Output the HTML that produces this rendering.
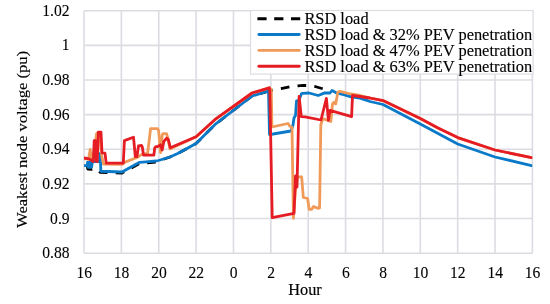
<!DOCTYPE html><html><head><meta charset="utf-8"><style>html,body{margin:0;padding:0;background:#fff;overflow:hidden}svg{display:block}</style></head><body><svg width="550" height="304" viewBox="0 0 550 304"><g stroke="#dcdce3" stroke-width="1.6" fill="none"><line x1="84.00" y1="10.70" x2="84.00" y2="253.20"/><line x1="121.37" y1="10.70" x2="121.37" y2="253.20"/><line x1="158.73" y1="10.70" x2="158.73" y2="253.20"/><line x1="196.10" y1="10.70" x2="196.10" y2="253.20"/><line x1="233.47" y1="10.70" x2="233.47" y2="253.20"/><line x1="270.83" y1="10.70" x2="270.83" y2="253.20"/><line x1="308.20" y1="10.70" x2="308.20" y2="253.20"/><line x1="345.57" y1="10.70" x2="345.57" y2="253.20"/><line x1="382.93" y1="10.70" x2="382.93" y2="253.20"/><line x1="420.30" y1="10.70" x2="420.30" y2="253.20"/><line x1="457.67" y1="10.70" x2="457.67" y2="253.20"/><line x1="495.03" y1="10.70" x2="495.03" y2="253.20"/><line x1="532.40" y1="10.70" x2="532.40" y2="253.20"/><line x1="84.00" y1="10.70" x2="532.40" y2="10.70"/><line x1="84.00" y1="45.34" x2="532.40" y2="45.34"/><line x1="84.00" y1="79.99" x2="532.40" y2="79.99"/><line x1="84.00" y1="114.63" x2="532.40" y2="114.63"/><line x1="84.00" y1="149.27" x2="532.40" y2="149.27"/><line x1="84.00" y1="183.91" x2="532.40" y2="183.91"/><line x1="84.00" y1="218.56" x2="532.40" y2="218.56"/><line x1="84.00" y1="253.20" x2="532.40" y2="253.20"/></g><g font-family="'Liberation Serif','Times New Roman',serif" font-size="15.6" fill="#000" stroke="#000" stroke-width="0.1"><text transform="translate(69.6 15.65) scale(1 1.08)" text-anchor="end">1.02</text><text transform="translate(69.6 50.29) scale(1 1.08)" text-anchor="end">1</text><text transform="translate(69.6 84.94) scale(1 1.08)" text-anchor="end">0.98</text><text transform="translate(69.6 119.58) scale(1 1.08)" text-anchor="end">0.96</text><text transform="translate(69.6 154.22) scale(1 1.08)" text-anchor="end">0.94</text><text transform="translate(69.6 188.86) scale(1 1.08)" text-anchor="end">0.92</text><text transform="translate(69.6 223.51) scale(1 1.08)" text-anchor="end">0.9</text><text transform="translate(69.6 258.15) scale(1 1.08)" text-anchor="end">0.88</text><text transform="translate(84.20 278.2) scale(1 1.08)" text-anchor="middle">16</text><text transform="translate(121.57 278.2) scale(1 1.08)" text-anchor="middle">18</text><text transform="translate(158.93 278.2) scale(1 1.08)" text-anchor="middle">20</text><text transform="translate(196.30 278.2) scale(1 1.08)" text-anchor="middle">22</text><text transform="translate(233.67 278.2) scale(1 1.08)" text-anchor="middle">0</text><text transform="translate(271.03 278.2) scale(1 1.08)" text-anchor="middle">2</text><text transform="translate(308.40 278.2) scale(1 1.08)" text-anchor="middle">4</text><text transform="translate(345.77 278.2) scale(1 1.08)" text-anchor="middle">6</text><text transform="translate(383.13 278.2) scale(1 1.08)" text-anchor="middle">8</text><text transform="translate(420.50 278.2) scale(1 1.08)" text-anchor="middle">10</text><text transform="translate(457.87 278.2) scale(1 1.08)" text-anchor="middle">12</text><text transform="translate(495.23 278.2) scale(1 1.08)" text-anchor="middle">14</text><text transform="translate(532.60 278.2) scale(1 1.08)" text-anchor="middle">16</text></g><text font-family="'Liberation Serif','Times New Roman',serif" font-size="16.3" transform="translate(305 294.6) scale(1 1.08)" text-anchor="middle" fill="#000" stroke="#000" stroke-width="0.15">Hour</text><text font-family="'Liberation Serif','Times New Roman',serif" font-size="16.3" transform="translate(27.2,139.4) rotate(-90) scale(1.02 0.95)" text-anchor="middle" fill="#000" stroke="#000" stroke-width="0.15">Weakest node voltage (pu)</text><defs><clipPath id="pc"><rect x="84.0" y="0" width="448.40" height="304"/></clipPath></defs><g clip-path="url(#pc)" fill="none" stroke-linejoin="round" stroke-linecap="round" stroke-width="2.8"><polyline points="84.0,165.6 87.3,165.6 87.8,169.0 92.0,169.3 96.0,168.5 100.0,172.3 108.0,172.5 122.0,173.0 139.6,163.5 146.0,163.0 156.0,162.0 158.5,161.0 170.0,157.0 178.2,153.3 196.1,143.6 214.8,124.7 252.1,96.0 268.5,91.2" stroke="#000" stroke-dasharray="8.7 8.2" stroke-dashoffset="-2.5" stroke-linecap="butt"/><polyline points="269.0,91.0 271.0,90.5 281.0,88.7 290.0,86.8 298.0,85.8 303.0,85.4 306.7,85.5 315.0,86.5 323.6,89.0 330.0,91.5" stroke="#000" stroke-dasharray="8.7 8.2" stroke-dashoffset="4.8" stroke-linecap="butt"/><polyline points="84.0,165.6 87.2,165.6 87.6,162.2 88.4,167.4 89.2,162.2 90.0,167.4 90.8,162.2 91.6,167.4 92.2,162.5 93.6,161.5 96.0,161.5 99.4,161.5 100.3,153.5 100.8,171.3 108.0,171.5 122.0,172.0 139.6,162.3 146.0,161.8 156.0,161.0 158.5,160.5 170.0,157.0 178.2,153.3 196.1,143.6 214.8,124.7 252.1,96.0 268.5,91.0 269.5,134.5 273.0,134.0 291.0,131.0 293.0,125.0 294.0,118.0 295.5,115.5 296.5,101.0 299.0,100.0 301.5,93.8 302.5,93.3 309.0,93.0 318.2,95.5 324.7,92.9 330.0,93.0 332.0,90.5 336.6,92.9 344.5,94.9 351.0,96.8 360.0,98.2 370.0,101.5 383.0,104.5 420.3,124.0 457.7,144.0 495.0,157.0 531.5,165.6" stroke="#0a7ac8"/><polyline points="84.0,158.5 88.5,159.0 90.2,149.5 91.8,159.0 93.0,160.0 96.6,133.5 97.8,132.5 99.5,133.0 101.8,156.0 103.5,164.2 122.0,164.3 124.4,162.4 137.0,157.5 141.8,154.4 147.6,153.5 150.6,128.7 157.5,128.7 158.6,130.5 160.5,152.5 162.2,135.0 163.0,133.7 166.5,133.7 167.5,137.0 170.0,149.0 196.1,136.8 214.8,119.7 252.1,93.0 269.3,87.8 271.3,90.0 271.9,127.0 288.0,123.5 290.0,126.5 292.0,127.0 293.4,218.3 295.5,190.0 297.5,176.8 301.7,176.8 303.3,197.5 307.6,198.5 309.2,209.4 311.6,209.4 313.5,206.4 315.5,207.4 318.5,208.4 319.6,208.0 320.8,125.0 322.8,118.6 330.8,121.5 332.5,104.0 334.0,102.3 335.7,104.0 337.9,92.0 340.0,91.3 351.0,94.0 360.0,95.5 370.0,98.0 383.0,100.6 420.3,118.5 438.0,128.0 457.7,137.6 495.0,150.0 531.5,157.6" stroke="#f09a5a"/><polyline points="84.0,158.0 88.8,158.8 92.6,161.0 93.3,161.5 94.2,140.6 95.5,140.6 96.4,161.5 97.3,161.5 98.4,132.2 101.0,132.2 102.0,152.8 105.0,153.2 106.2,163.2 112.0,163.2 123.3,163.2 124.4,140.6 125.0,140.4 133.5,137.2 135.3,156.5 137.0,156.5 138.5,145.8 141.5,145.5 142.3,147.0 143.5,155.0 148.0,155.2 153.9,155.0 154.7,148.0 155.8,146.6 157.6,146.6 160.3,144.8 162.2,150.0 163.8,141.5 166.5,138.3 168.3,139.2 170.3,147.8 196.1,136.8 214.8,119.7 252.1,93.0 269.3,87.8 269.8,90.0 272.2,217.6 294.0,213.3 295.5,176.0 297.0,187.0 299.1,96.5 301.3,116.6 305.0,116.8 321.0,120.0 326.4,98.4 328.4,120.3 330.0,110.3 351.6,116.7 352.5,95.5 360.0,96.5 370.0,98.0 383.0,100.6 420.3,118.5 438.0,128.0 457.7,137.6 495.0,150.0 531.5,157.6" stroke="#e61c24"/></g><rect x="250.5" y="10.5" width="282.60" height="63.60" fill="#fff" stroke="#dcdce3" stroke-width="1.2"/><line x1="257.4" y1="18.8" x2="300.7" y2="18.8" stroke="#000" stroke-width="3" stroke-dasharray="9.2 7.6"/><text x="304.4" y="24.00" font-family="'Liberation Serif','Times New Roman',serif" font-size="16.4" fill="#000" stroke="#000" stroke-width="0.12">RSD load</text><line x1="258.9" y1="34.5" x2="299.2" y2="34.5" stroke="#0a7ac8" stroke-width="2.9" stroke-linecap="round"/><text x="304.4" y="39.70" font-family="'Liberation Serif','Times New Roman',serif" font-size="16.4" fill="#000" stroke="#000" stroke-width="0.12">RSD load &amp; 32% PEV penetration</text><line x1="258.9" y1="50.4" x2="299.2" y2="50.4" stroke="#f09a5a" stroke-width="2.9" stroke-linecap="round"/><text x="304.4" y="55.60" font-family="'Liberation Serif','Times New Roman',serif" font-size="16.4" fill="#000" stroke="#000" stroke-width="0.12">RSD load &amp; 47% PEV penetration</text><line x1="258.9" y1="66.3" x2="299.2" y2="66.3" stroke="#e61c24" stroke-width="2.9" stroke-linecap="round"/><text x="304.4" y="71.50" font-family="'Liberation Serif','Times New Roman',serif" font-size="16.4" fill="#000" stroke="#000" stroke-width="0.12">RSD load &amp; 63% PEV penetration</text></svg></body></html>
